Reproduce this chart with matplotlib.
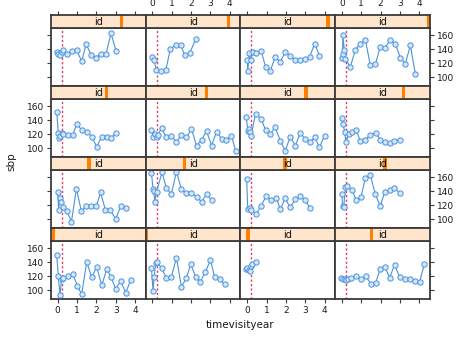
import matplotlib
matplotlib.use("Agg")
import matplotlib.pyplot as plt
from matplotlib.patches import Rectangle

# ---------------- data ----------------
# panels listed row by row from the top-left
x_r1c1 = [-0.05, 0.03, 0.12, 0.2, 0.29, 0.46, 0.72, 0.98, 1.24, 1.47, 1.73, 1.98, 2.22, 2.5, 2.76, 3.02]
y_r1c1 = [136.2, 133.8, 131.4, 136.2, 138.6, 133.8, 137.6, 138.6, 122.9, 147.1, 132.4, 128.1, 133.8, 133.8, 162.4, 137.6]

x_r1c2 = [-0.02, 0.07, 0.2, 0.43, 0.69, 0.93, 1.2, 1.46, 1.68, 1.93, 2.24]
y_r1c2 = [129, 125, 111, 108.6, 110, 141, 145.7, 145.7, 131.4, 134.8, 154.3]

x_r1c3 = [0.0, 0.03, 0.1, 0.2, 0.28, 0.46, 0.72, 0.95, 1.19, 1.45, 1.71, 1.97, 2.23, 2.49, 2.75, 2.97, 3.23, 3.49, 3.74]
y_r1c3 = [124, 109, 134, 124, 136, 135, 138, 115, 109, 129, 122, 136, 131, 124, 124, 126, 129, 148, 131]

x_r1c4 = [0.0, 0.03, 0.05, 0.12, 0.17, 0.43, 0.69, 0.95, 1.21, 1.47, 1.73, 1.98, 2.24, 2.5, 2.76, 3.02, 3.28, 3.54, 3.8]
y_r1c4 = [127.6, 133.8, 160, 138.6, 126.7, 114.8, 138.6, 148, 153.8, 117, 118.6, 143.3, 142.4, 153.8, 148, 128, 119.5, 145.7, 104.3]

x_r2c1 = [-0.05, 0.03, 0.08, 0.12, 0.2, 0.29, 0.55, 0.78, 0.98, 1.24, 1.5, 1.76, 2.02, 2.28, 2.54, 2.76, 3.0]
y_r2c1 = [152.4, 121.4, 114.3, 118.1, 122, 120.5, 118.6, 118.6, 134.8, 126.2, 123.8, 116.7, 102.4, 116.7, 116.7, 115.3, 121.4]

x_r2c2 = [-0.05, 0.03, 0.12, 0.21, 0.29, 0.47, 0.72, 0.98, 1.24, 1.5, 1.76, 2.02, 2.28, 2.54, 2.8, 3.06, 3.32, 3.58, 3.83, 4.09, 4.3]
y_r2c2 = [126.2, 116.7, 120.5, 116.7, 119.6, 128.6, 115.7, 118.1, 108.6, 119.1, 115.7, 127.6, 103.9, 112, 124.3, 103.9, 123.8, 113.4, 112, 118.1, 96.5]

x_r2c3 = [-0.05, 0.03, 0.08, 0.12, 0.2, 0.43, 0.72, 0.95, 1.19, 1.45, 1.71, 1.97, 2.23, 2.49, 2.75, 3.0, 3.23, 3.49, 3.74, 4.0]
y_r2c3 = [144.3, 125.3, 127.6, 122.9, 118.1, 149, 142, 126.2, 120.5, 130, 111, 96.7, 116.7, 103.9, 122, 113.4, 108.6, 115.7, 101.4, 118.1]

x_r2c4 = [0.0, 0.05, 0.14, 0.2, 0.35, 0.52, 0.74, 0.95, 1.21, 1.47, 1.76, 1.98, 2.21, 2.47, 2.71, 3.02]
y_r2c4 = [143.4, 134.8, 123.8, 108.6, 120.5, 122.9, 126.2, 110, 112.4, 119.1, 122, 112, 108.6, 107.7, 111, 112.4]

x_r3c1 = [0.0, 0.05, 0.1, 0.17, 0.25, 0.48, 0.71, 0.97, 1.22, 1.48, 1.74, 2.0, 2.22, 2.47, 2.72, 3.0, 3.26, 3.52]
y_r3c1 = [138.2, 113.2, 129.7, 125, 117.9, 111.8, 96.8, 143.8, 111.8, 118.9, 118.9, 118.9, 138.2, 113.2, 113.2, 100.5, 118.9, 115.6]

x_r3c2 = [-0.05, 0.03, 0.07, 0.12, 0.21, 0.5, 0.72, 0.98, 1.24, 1.5, 1.76, 2.02, 2.28, 2.54, 2.8, 3.06]
y_r3c2 = [165.6, 142.7, 140.7, 125, 139.3, 167, 144.1, 136, 167.9, 142.7, 137, 137.9, 132.1, 125, 135.6, 127.4]

x_r3c3 = [-0.03, 0.03, 0.12, 0.21, 0.47, 0.72, 0.98, 1.24, 1.5, 1.71, 1.97, 2.22, 2.48, 2.74, 3.0, 3.26]
y_r3c3 = [157.9, 114.6, 115.6, 113.2, 107.6, 119.3, 133, 127.3, 130.6, 114.6, 129.7, 117, 128.3, 133, 127.3, 115.6]

x_r3c4 = [0.0, 0.03, 0.09, 0.18, 0.26, 0.52, 0.74, 0.98, 1.21, 1.47, 1.73, 1.98, 2.21, 2.47, 2.71, 3.02]
y_r3c4 = [135.6, 118.9, 117, 146.4, 147.4, 141.7, 127.4, 131.3, 158.5, 162.5, 135.6, 118.9, 138.4, 141.7, 144.1, 137]

x_r4c1 = [-0.05, 0.03, 0.12, 0.2, 0.29, 0.55, 0.78, 1.02, 1.24, 1.5, 1.76, 2.02, 2.28, 2.54, 2.76, 3.0, 3.26, 3.52, 3.78]
y_r4c1 = [149.6, 120.1, 93, 116.5, 117.9, 120.1, 123.5, 106.1, 94.4, 140.3, 118.7, 133.3, 107, 130.5, 118.7, 102.4, 113.1, 96.8, 114.6]

x_r4c2 = [-0.05, 0.03, 0.09, 0.16, 0.26, 0.47, 0.72, 0.98, 1.24, 1.5, 1.76, 1.98, 2.24, 2.48, 2.74, 3.0, 3.22, 3.48, 3.74]
y_r4c2 = [131.3, 99.3, 119.1, 138.4, 140.2, 131.3, 118.1, 119.1, 146.4, 104.9, 118.1, 136.9, 119.5, 112.5, 126.1, 143.1, 119.1, 115.8, 108.7]

x_r4c3 = [-0.05, 0.0, 0.09, 0.16, 0.21, 0.26, 0.47]
y_r4c3 = [129.9, 132.2, 128.9, 127.5, 134.6, 136.9, 140.7]

x_r4c4 = [-0.04, 0.05, 0.14, 0.22, 0.29, 0.47, 0.74, 0.98, 1.24, 1.5, 1.74, 1.98, 2.22, 2.47, 2.72, 2.98, 3.24, 3.5, 3.76, 4.02, 4.27]
y_r4c4 = [116.9, 115.5, 116.4, 114.6, 116.4, 117.9, 120.1, 115.5, 120.1, 108.5, 109.9, 130.9, 133.3, 117.9, 136.5, 119.3, 116.4, 115.5, 113.1, 112.5, 137.5]

# id level position inside each strip (fraction of strip width)
id_pos = [[0.744, 0.870, 0.922, 0.990],
          [0.586, 0.639, 0.690, 0.720],
          [0.400, 0.410, 0.468, 0.526],
          [0.024, 0.007, 0.078, 0.380]]

ref_time = 0.22           # dashed reference line
x_ticks = [0, 1, 2, 3, 4]
y_ticks = [100, 120, 140, 160]
strip_label = "id"
x_label = "timevisityear"
y_label = "sbp"

series = [[(x_r1c1, y_r1c1), (x_r1c2, y_r1c2), (x_r1c3, y_r1c3), (x_r1c4, y_r1c4)],
          [(x_r2c1, y_r2c1), (x_r2c2, y_r2c2), (x_r2c3, y_r2c3), (x_r2c4, y_r2c4)],
          [(x_r3c1, y_r3c1), (x_r3c2, y_r3c2), (x_r3c3, y_r3c3), (x_r3c4, y_r3c4)],
          [(x_r4c1, y_r4c1), (x_r4c2, y_r4c2), (x_r4c3, y_r4c3), (x_r4c4, y_r4c4)]]

# ---------------- layout ----------------
W, H = 474, 339
fig = plt.figure(figsize=(W / 100, H / 100), dpi=100)
fig.patch.set_facecolor("white")

L0, PW = 51, 94.75
T0, SH, PH, RH = 15, 13, 58, 71
XLIM = (-0.347, 4.556)
YLIM = (87.7, 170.2)

FRAME = "#3a3a3a"
LINE_BLUE = "#4a92df"
FILL_BLUE = "#d4e7fa"
STRIP_BG = "#ffe5cc"
STRIP_MARK = "#ff7f00"
REF_RED = "#e63a5c"

for r in range(4):
    for c in range(4):
        left = L0 + c * PW
        st = T0 + r * RH
        ax = fig.add_axes([left / W, 1 - (st + SH + PH) / H, PW / W, PH / H])
        sax = fig.add_axes([left / W, 1 - (st + SH) / H, PW / W, SH / H])

        xs, ys = series[r][c]
        ax.plot(xs, ys, color=LINE_BLUE, lw=0.8, marker="o", ms=3.8,
                mfc=FILL_BLUE, mec=LINE_BLUE, mew=0.7, zorder=3)
        ax.axvline(ref_time, color=REF_RED, lw=1.0, dashes=(1.6, 1.6), zorder=2)
        ax.set_xlim(XLIM)
        ax.set_ylim(YLIM)
        ax.set_xticks(x_ticks)
        ax.set_yticks(y_ticks)
        for s in ax.spines.values():
            s.set_color(FRAME)
            s.set_linewidth(1.3)
        ax.tick_params(direction="out", length=3.2, width=0.8, colors=FRAME,
                       labelcolor="#1a1a1a", labelsize=6.5, pad=1.5,
                       left=(c == 0), right=(c == 3), bottom=(r == 3), top=False,
                       labelleft=(c == 0 and r in (1, 3)),
                       labelright=(c == 3 and r in (0, 2)),
                       labelbottom=(r == 3 and c in (0, 2)),
                       labeltop=False)

        # strip
        sax.set_facecolor(STRIP_BG)
        sax.set_xlim(XLIM)
        sax.set_ylim(0, 1)
        sax.set_xticks(x_ticks)
        sax.set_yticks([])
        for s in sax.spines.values():
            s.set_color(FRAME)
            s.set_linewidth(1.3)
        sax.tick_params(direction="out", length=3.2, width=0.8, colors=FRAME,
                        labelcolor="#1a1a1a", labelsize=6.5, pad=1.5,
                        top=(r == 0), labeltop=(r == 0 and c in (1, 3)),
                        bottom=False, labelbottom=False, left=False, labelleft=False)
        mw = 0.035
        sax.add_patch(Rectangle((id_pos[r][c] - mw / 2, 0), mw, 1,
                                transform=sax.transAxes, color=STRIP_MARK, lw=0))
        sax.text(0.5, 0.45, strip_label, transform=sax.transAxes, ha="center",
                 va="center", fontsize=7, color="#111111")

fig.text(240 / W, 1 - 325 / H, x_label, ha="center", va="center", fontsize=7.5,
         color="#1a1a1a")
fig.text(11 / W, 1 - 162 / H, y_label, ha="center", va="center", fontsize=7.5,
         rotation=90, color="#1a1a1a")

fig.savefig("out.png", dpi=100, facecolor="white")
